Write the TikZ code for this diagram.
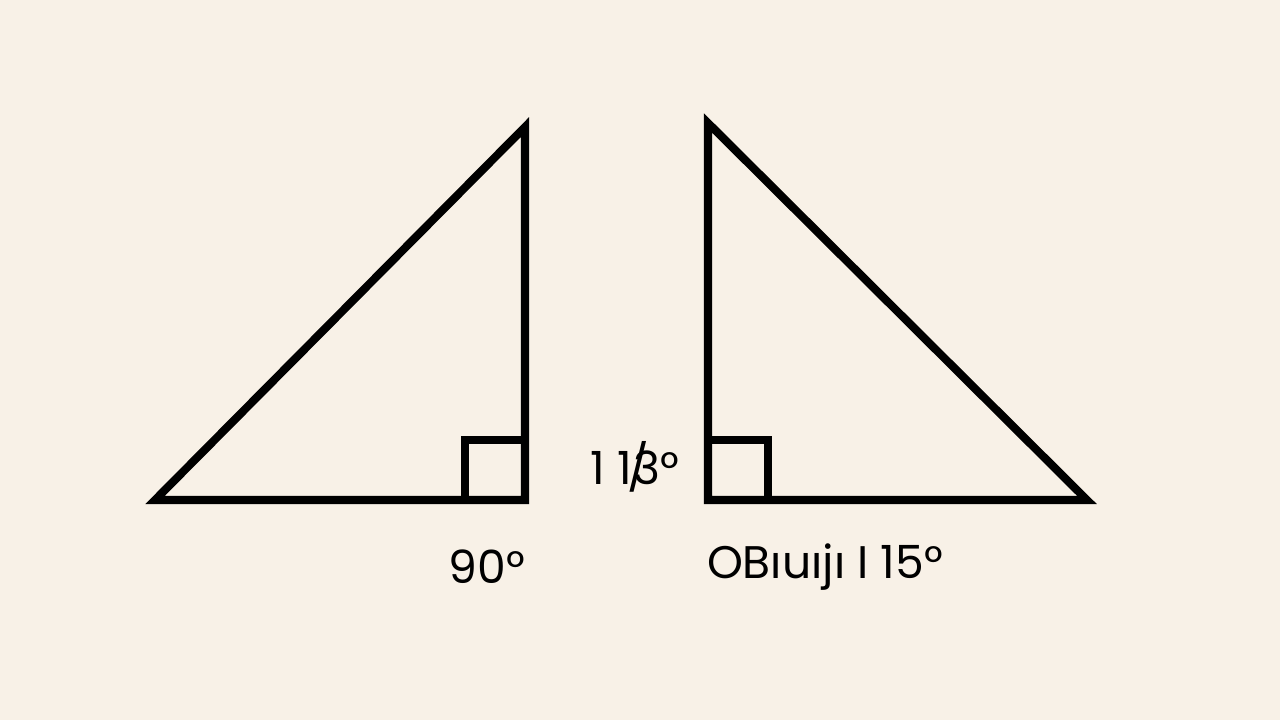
\documentclass[tikz,border=0pt]{standalone}
\usepackage{fontspec}
\setmainfont{Poppins}
\definecolor{paper}{HTML}{F8F1E7}
\tikzset{
  side/.style={line width=4.6pt, line join=miter},
  rightbox/.style={line width=4pt},
  anglabel/.style={font=\fontsize{26}{31}\selectfont, inner sep=0pt}
}
\begin{document}
\begin{tikzpicture}
\fill [paper] (0,0) rectangle (25.6,14.4);
\useasboundingbox (0,0) rectangle (25.6,14.4);

\coordinate (lA) at (3.1,4.4);
\coordinate (lB) at (10.5,4.4);
\coordinate (lC) at (10.5,11.86);
\draw [side] (lA) -- (lB) -- (lC) -- cycle;
\draw [rightbox] (9.3,4.4) -- (9.3,5.6) -- (10.5,5.6);
\draw (9.74,3.06) node[anglabel] (ninety) {90°};

\coordinate (rA) at (14.16,4.4);
\coordinate (rB) at (21.74,4.4);
\coordinate (rC) at (14.16,11.94);
\draw [side] (rA) -- (rB) -- (rC) -- cycle;
\draw [rightbox] (14.16,5.6) -- (15.36,5.6) -- (15.36,4.4);
\draw (12.7,5.06) node[anglabel] (middle) {1 1\kern-.1em/\kern-.35em3°};
\draw (16.5,3.06) node[anglabel] (obtuse) {OBıuıjı I 15°};
\end{tikzpicture}
\end{document}
